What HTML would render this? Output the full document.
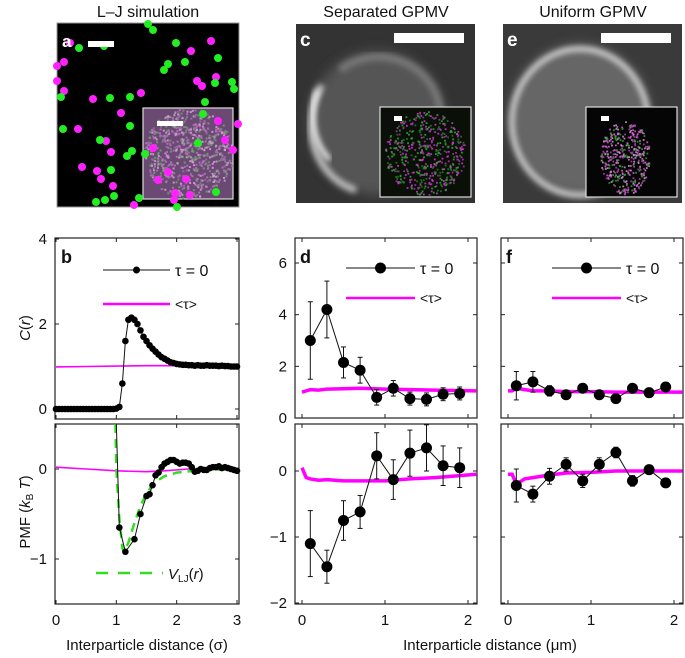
<!DOCTYPE html>
<html><head><meta charset="utf-8"><style>
body{margin:0;background:#fff;}
svg{display:block;font-family:"Liberation Sans",Arial,sans-serif;}
</style></head><body>
<svg id="fig" width="685" height="658" viewBox="0 0 685 658">
<defs>
<filter id="blur3"><feGaussianBlur stdDeviation="3"/></filter>
<filter id="blur6"><feGaussianBlur stdDeviation="6"/></filter>
<clipPath id="clipC"><rect x="296" y="24" width="179" height="179"/></clipPath>
<clipPath id="clipE"><rect x="503" y="24" width="179" height="179"/></clipPath>
</defs>
<g font-size="16" text-anchor="middle" fill="#111">
<text x="148" y="17">L–J simulation</text>
<text x="386" y="17">Separated GPMV</text>
<text x="593" y="17">Uniform GPMV</text>
</g>
<!-- panel a -->
<g>
<rect x="57" y="23" width="182" height="184" fill="#000" stroke="#999" stroke-width="1"/>
<g id="aInset">
<rect x="143" y="108" width="90" height="91" fill="#6a4a72" stroke="#ddd" stroke-width="1.2"/>
<g id="aSpeck"></g>
<rect x="157" y="121" width="26" height="5" fill="#fff"/>
</g>
<g id="aDots"></g>
<rect x="88" y="41" width="26" height="6" fill="#fff"/>
<text x="62" y="47" font-size="17" font-weight="bold" fill="#fff">a</text>
</g>
<!-- panel c -->
<g clip-path="url(#clipC)">
<rect x="296" y="24" width="179" height="179" fill="#333"/>
<ellipse cx="377" cy="123" rx="68" ry="72" fill="#555" filter="url(#blur6)"/>
<path d="M322 85 A60 68 0 0 0 356 190" fill="none" stroke="#bbb" stroke-width="7" filter="url(#blur3)"/>
<path d="M318 90 A58 62 0 0 0 330 160" fill="none" stroke="#eee" stroke-width="5" filter="url(#blur3)"/>
<path d="M340 70 A62 60 0 0 1 440 110" fill="none" stroke="#777" stroke-width="8" filter="url(#blur3)"/>
<rect x="380" y="107" width="91" height="90" fill="#0a0f08" stroke="#ddd" stroke-width="1.2"/>
<g id="cSpeck"></g>
<rect x="394" y="116" width="8" height="5" fill="#fff"/>
<rect x="394" y="33" width="70" height="10" fill="#fff"/>
<text x="300" y="46" font-size="19" font-weight="bold" fill="#fff">c</text>
</g>
<!-- panel e -->
<g clip-path="url(#clipE)">
<rect x="503" y="24" width="179" height="179" fill="#3a3a3a"/>
<ellipse cx="580" cy="120" rx="70" ry="75" fill="#666" filter="url(#blur6)"/>
<ellipse cx="580" cy="122" rx="68" ry="73" fill="none" stroke="#ccc" stroke-width="6" filter="url(#blur3)"/>
<rect x="586" y="107" width="91" height="90" fill="#050505" stroke="#ddd" stroke-width="1.2"/>
<g id="eSpeck"></g>
<rect x="601" y="116" width="8" height="5" fill="#fff"/>
<rect x="601" y="33" width="70" height="10" fill="#fff"/>
<text x="507" y="46" font-size="19" font-weight="bold" fill="#fff">e</text>
</g>
<g id="charts"></g>
<g font-size="15" fill="#111" text-anchor="middle">
<text transform="translate(30,328) rotate(-90)"><tspan font-style="italic">C</tspan>(<tspan font-style="italic">r</tspan>)</text>
<text transform="translate(30,512) rotate(-90)">PMF (<tspan font-style="italic">k</tspan><tspan font-size="10" dy="3">B</tspan><tspan dy="-3"> </tspan><tspan font-style="italic">T</tspan>)</text>
<text x="147" y="650">Interparticle distance (σ)</text>
<text x="490" y="650">Interparticle distance (μm)</text>
</g>
</svg>
<script>
// ---- panel b data ----
const bX = [0,0.05,0.1,0.15,0.2,0.25,0.3,0.35,0.4,0.45,0.5,0.55,0.6,0.65,0.7,0.75,0.8,0.85,0.9,0.95,1.0,1.05,1.1,1.15,1.2,1.25,1.3,1.35,1.4,1.45,1.5,1.55,1.6,1.65,1.7,1.75,1.8,1.85,1.9,1.95,2.0,2.05,2.1,2.15,2.2,2.25,2.3,2.35,2.4,2.45,2.5,2.55,2.6,2.65,2.7,2.75,2.8,2.85,2.9,2.95,3.0];
const bC = [0,0,0,0,0,0,0,0,0,0,0,0,0,0,0,0,0,0,0,0,0.01,0.05,0.6,1.6,2.1,2.15,2.1,2.0,1.85,1.7,1.6,1.5,1.42,1.35,1.28,1.22,1.18,1.14,1.1,1.08,1.06,1.05,1.04,1.04,1.03,1.03,1.02,1.03,1.02,1.02,1.03,1.02,1.02,1.02,1.01,1.02,1.01,1.01,1.0,1.0,1.0];
const bMagX = [0,0.5,1.0,1.5,2.0,2.5,3.0];
const bMagC = [0.99,1.0,1.01,1.02,1.02,1.02,1.02];
const bPX = [1.0,1.05,1.15,1.3,1.4,1.5,1.55,1.6,1.65,1.7,1.75,1.8,1.85,1.9,1.95,2.0,2.05,2.1,2.15,2.2,2.25,2.3,2.35,2.4,2.45,2.5,2.55,2.6,2.65,2.7,2.75,2.8,2.85,2.9,2.95,3.0];
const bP = [0.5,-0.65,-0.92,-0.78,-0.5,-0.3,-0.28,-0.18,-0.07,-0.04,0.02,0.06,0.08,0.1,0.1,0.08,0.06,0.07,0.07,0.06,0.02,-0.03,-0.02,0,-0.01,-0.01,0.01,0.02,0.02,0.03,0.01,0.02,0.01,0,-0.01,-0.02];
const bMagPX = [0,0.5,1.0,1.5,1.8,2.2,2.6,3.0];
const bMagP = [0.02,0.0,-0.02,-0.03,-0.02,0.0,0.0,0.0];
const ljX = [0.985,1.0,1.05,1.1,1.122,1.2,1.3,1.4,1.5,1.6,1.7,1.8,2.0,2.3,2.6,3.0];
const ljV = [0.5,0,-0.55,-0.88,-0.92,-0.82,-0.6,-0.41,-0.27,-0.18,-0.12,-0.08,-0.04,-0.02,-0.01,0];
// ---- panels d & f data ----
const gX = [0.1,0.3,0.5,0.7,0.9,1.1,1.3,1.5,1.7,1.9];
const dC = [3.0,4.2,2.15,1.85,0.8,1.15,0.75,0.72,0.92,0.95];
const dCerr = [1.5,1.1,0.6,0.5,0.3,0.3,0.25,0.25,0.25,0.25];
const dP = [-1.1,-1.45,-0.75,-0.62,0.23,-0.13,0.27,0.35,0.08,0.05];
const dPerr = [0.5,0.25,0.3,0.25,0.35,0.3,0.35,0.35,0.3,0.3];
const fC = [1.25,1.4,1.05,0.9,1.15,0.9,0.75,1.15,0.98,1.2];
const fCerr = [0.55,0.4,0.2,0.1,0.15,0.1,0.1,0.1,0.1,0.1];
const fP = [-0.22,-0.35,-0.08,0.1,-0.15,0.1,0.28,-0.15,0.02,-0.18];
const fPerr = [0.25,0.12,0.12,0.1,0.1,0.1,0.08,0.08,0.05,0.05];
const magX = [0,0.05,0.1,0.2,0.3,0.5,0.7,1.0,1.3,1.6,1.9,2.1];
const dMagC = [1.0,1.05,1.1,1.08,1.12,1.13,1.15,1.12,1.1,1.08,1.06,1.05];
const dMagP = [0.05,-0.1,-0.12,-0.14,-0.13,-0.15,-0.15,-0.15,-0.12,-0.1,-0.07,-0.05];
const fMagC = [1.05,1.05,1.15,1.1,1.05,1.05,1.02,1.02,1.0,1.0,1.0,1.0];
const fMagP = [-0.05,-0.05,-0.2,-0.12,-0.1,-0.06,-0.03,-0.02,0,0,0,0];
const bXTicks = ['0','1','2','3'];
const umXTicks = ['0','1','2'];

const NS='http://www.w3.org/2000/svg';
const charts=document.getElementById('charts');
function mk(tag,attrs,parent){const e=document.createElementNS(NS,tag);for(const k in attrs)e.setAttribute(k,attrs[k]);(parent||charts).appendChild(e);return e;}
function scale(d0,d1,r0,r1){return v=>r0+(v-d0)/(d1-d0)*(r1-r0);}

function axes(name,box,xs,ys,xticks,yticks,yLabels,xLabels){
  const g=mk('g',{});
  
  
  const r=mk('rect',{x:box[0],y:box[1],width:box[2]-box[0],height:box[3]-box[1],fill:'#fff',stroke:'#222','stroke-width':1.2},g);
  
  
  xticks.forEach(v=>{const x=xs(v);
    mk('line',{x1:x,x2:x,y1:box[3],y2:box[3]-4,stroke:'#222'},g);
    mk('line',{x1:x,x2:x,y1:box[1],y2:box[1]+4,stroke:'#222'},g);
    if(xLabels){const t=mk('text',{x:x,y:box[3]+21,'font-size':15,'text-anchor':'middle',fill:'#111'},g);t.textContent=String(v);
      
      }
  });
  yticks.forEach(v=>{const y=ys(v);
    mk('line',{x1:box[0],x2:box[0]+4,y1:y,y2:y,stroke:'#222'},g);
    mk('line',{x1:box[2],x2:box[2]-4,y1:y,y2:y,stroke:'#222'},g);
    if(yLabels){const t=mk('text',{x:box[0]-8,y:y+5,'font-size':15,'text-anchor':'end',fill:'#111'},g);t.textContent=(v<0?'\u2212'+(-v):String(v));
      
      }
  });
  return g;
}
function line(xa,ya,xs,ys,attrs,name,clip){
  const p=mk('polyline',Object.assign({points:xa.map((x,i)=>xs(x)+','+ys(ya[i])).join(' '),fill:'none'},attrs));
  
  
  if(clip)p.setAttribute('clip-path','url(#'+clip+')');
  return p;
}
function dots(xa,ya,xs,ys,r,name,err){
  xa.forEach((x,i)=>{
    if(err){const e=mk('line',{x1:xs(x),x2:xs(x),y1:ys(ya[i]-err[i]),y2:ys(ya[i]+err[i]),stroke:'#111','stroke-width':1});
      
      
      mk('line',{x1:xs(x)-2.5,x2:xs(x)+2.5,y1:ys(ya[i]-err[i]),y2:ys(ya[i]-err[i]),stroke:'#111'});
      mk('line',{x1:xs(x)-2.5,x2:xs(x)+2.5,y1:ys(ya[i]+err[i]),y2:ys(ya[i]+err[i]),stroke:'#111'});}
    const c=mk('circle',{cx:xs(x),cy:ys(ya[i]),r:r,fill:'#000'});
    
    
  });
}
function clip(id,box){const d=document.querySelector('defs');mk('clipPath',{id:id},d);const cp=document.getElementById(id);mk('rect',{x:box[0],y:box[1],width:box[2]-box[0],height:box[3]-box[1]},cp);}
function legend(x1,x2,y1,y2,big,letter,lx){
  const g=mk('g',{});
  
  
  mk('line',{x1:x1,x2:x2,y1:y1,y2:y1,stroke:'#111','stroke-width':1},g);
  mk('circle',{cx:(x1+x2)/2,cy:y1,r:big,fill:'#000'},g);
  let t=mk('text',{x:x2+5,y:y1+6,'font-size':16,fill:'#111'},g);t.textContent='τ = 0';
  
  
  mk('line',{x1:x1,x2:x2,y1:y2,y2:y2,stroke:'#ff00ff','stroke-width':2.5},g);
  t=mk('text',{x:x2+5,y:y2+5,'font-size':14,fill:'#111'},g);t.textContent='<τ>';
  
  
  t=mk('text',{x:lx,y:263,'font-size':18,'font-weight':'bold',fill:'#111'},g);t.textContent=letter;
  
  
}

// panel b
const bBoxC=[55,238,239,419], bBoxP=[55,424,239,604];
const bxs=scale(0,3,56,237);
const bysC=scale(0,4,409,239), bysP=scale(0,-1,469,559);
axes('panel-b-c-axes',bBoxC,bxs,bysC,[0,1,2,3],[0,2,4],true,false);
axes('panel-b-pmf-axes',bBoxP,bxs,bysP,bXTicks.map(Number),[0,-1],true,true);
clip('cbP',bBoxP);
line(bMagX,bMagC,bxs,bysC,{stroke:'#ff00ff','stroke-width':1.6},'series-b-c-mean-tau');
line(bX,bC,bxs,bysC,{stroke:'#111','stroke-width':1},'series-b-c-tau0');
dots(bX,bC,bxs,bysC,3.3,'point-b-c');
line(bMagPX,bMagP,bxs,bysP,{stroke:'#ff00ff','stroke-width':1.6},'series-b-pmf-mean-tau','cbP');
line(ljX,ljV,bxs,bysP,{stroke:'#33dd22','stroke-width':2.5,'stroke-dasharray':'9,6'},'series-vlj','cbP');
line(bPX,bP,bxs,bysP,{stroke:'#111','stroke-width':1},'series-b-pmf-tau0','cbP');
dots(bPX.slice(1),bP.slice(1),bxs,bysP,3.3,'point-b-pmf');
legend(103,170,270,304,3.5,'b',61);
mk('line',{x1:96,x2:163,y1:573,y2:573,stroke:'#33dd22','stroke-width':2.5,'stroke-dasharray':'12,10'});
(function(){const t=mk('text',{x:168,y:579,'font-size':15,fill:'#111'});


t.innerHTML='<tspan font-style="italic">V</tspan><tspan font-size="10" dy="3">LJ</tspan><tspan dy="-3">(</tspan><tspan font-style="italic">r</tspan>)';})();

// panels d, f
function gpmv(letter,box0,lab,C,Cerr,P,Perr,mC,mP){
  const boxC=[box0,238,box0+182,418], boxP=[box0,424,box0+182,604];
  const xs=scale(0,2,box0+7,box0+173);
  const ysC=scale(0,6,418,263), ysP=scale(0,-1,471,537);
  axes('panel-'+letter+'-c-axes',boxC,xs,ysC,[0,1,2],[0,2,4,6],lab,false);
  axes('panel-'+letter+'-pmf-axes',boxP,xs,ysP,umXTicks.map(Number),[0,-1,-2],lab,true);
  line(magX,mC,xs,ysC,{stroke:'#ff00ff','stroke-width':3.5},'series-'+letter+'-c-mean-tau');
  line(magX,mP,xs,ysP,{stroke:'#ff00ff','stroke-width':3.5},'series-'+letter+'-pmf-mean-tau');
  line(gX,C,xs,ysC,{stroke:'#111','stroke-width':1},'series-'+letter+'-c-tau0');
  dots(gX,C,xs,ysC,5.5,'point-'+letter+'-c',Cerr);
  line(gX,P,xs,ysP,{stroke:'#111','stroke-width':1},'series-'+letter+'-pmf-tau0');
  dots(gX,P,xs,ysP,5.5,'point-'+letter+'-pmf',Perr);
  legend(box0+51,box0+120,268,298,5.5,letter,box0+5);
}
gpmv('d',295,true,dC,dCerr,dP,dPerr,dMagC,dMagP);
gpmv('f',501,false,fC,fCerr,fP,fPerr,fMagC,fMagP);

// image texture speckles (decorative, deterministic)
let seed=12345;
function rnd(){seed=(seed*1103515245+12345)%2147483648;return seed/2147483648;}
function speck(id,cx,cy,rx,ry,n,cols,rad){
  const g=document.getElementById(id);
  for(let i=0;i<n;i++){const a=rnd()*6.283,r=Math.sqrt(rnd());
    mk('rect',{x:cx+Math.cos(a)*r*rx,y:cy+Math.sin(a)*r*ry,width:rad,height:rad,fill:cols[i%cols.length],opacity:0.85},g);}
}
speck('aSpeck',188,153,45,45,700,['#c070c8','#70a070','#d8a0d8','#9a70a8'],2);
speck('cSpeck',425,153,40,42,500,['#30b030','#b030b0','#208020','#d040d0'],1.8);
speck('eSpeck',625,157,25,37,380,['#b040b0','#30a030','#e060e0','#c8a0c8'],1.8);

// panel a particles (image decoration)
const mag=[[70,43],[64,62],[57,66],[57,81],[64,91],[93,99],[141,93],[121,113],[78,129],[106,141],[111,152],[82,167],[97,171],[101,179],[113,186],[134,205],[211,41],[191,51],[216,77],[197,81],[202,86],[238,124],[225,140],[233,150],[153,148],[168,172],[158,180],[186,179],[190,195],[175,193],[174,200],[218,121]];
const grn=[[79,48],[104,46],[148,24],[153,30],[176,43],[168,64],[164,70],[185,62],[218,58],[215,83],[232,82],[234,89],[205,102],[203,114],[61,97],[110,98],[130,97],[130,126],[63,129],[100,140],[132,151],[127,156],[145,154],[198,143],[111,170],[114,196],[105,200],[96,202],[139,198],[177,207],[216,192]];
const ad=document.getElementById('aDots');
mag.forEach(p=>{const c=mk('circle',{cx:p[0],cy:p[1],r:4,fill:'#ff22ff'},ad);});
grn.forEach(p=>{const c=mk('circle',{cx:p[0],cy:p[1],r:4,fill:'#22ee22'},ad);});
</script>
</body></html>
